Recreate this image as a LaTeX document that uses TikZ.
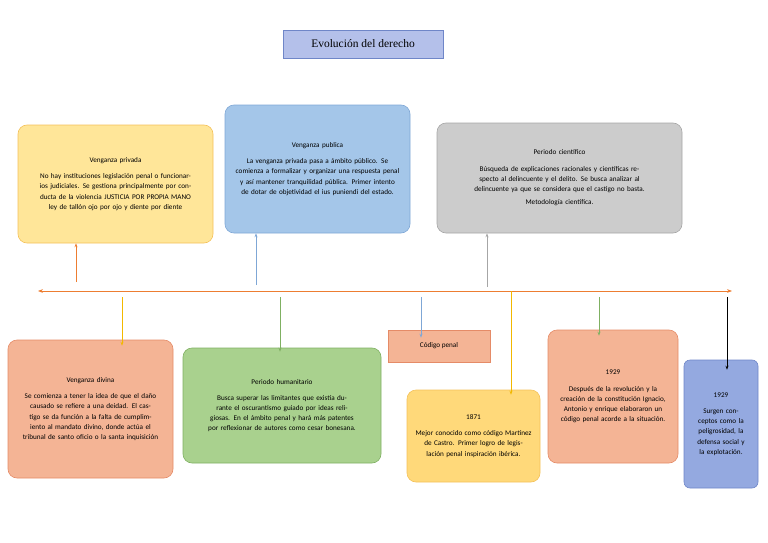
\documentclass[tikz,border=0pt]{standalone}
\usepackage{fontspec}
\setmainfont{Carlito}
\newfontfamily\titlefont{Liberation Serif}
\usetikzlibrary{arrows.meta}
\definecolor{cYel}{HTML}{FFE699}
\definecolor{cYelB}{HTML}{F4C15A}
\definecolor{cBlu}{HTML}{A4C6E9}
\definecolor{cBluB}{HTML}{7FA7D6}
\definecolor{cGra}{HTML}{CCCCCC}
\definecolor{cGraB}{HTML}{A6A6A6}
\definecolor{cSal}{HTML}{F4B495}
\definecolor{cSalB}{HTML}{E58B67}
\definecolor{cGre}{HTML}{A9D18E}
\definecolor{cGreB}{HTML}{7FB062}
\definecolor{cY2}{HTML}{FFD97A}
\definecolor{cVio}{HTML}{94A9E0}
\definecolor{cVioB}{HTML}{6F86C8}
\definecolor{cOr}{HTML}{ED7D31}
\definecolor{cGold}{HTML}{F2B800}
\definecolor{cTit}{HTML}{B4C0EA}
\tikzset{
 box/.style={rounded corners=9pt,draw=#1,line width=0.6pt,align=center,inner sep=4pt,font=\fontsize{7.2}{10.2}\selectfont},
 ar/.style={-{Stealth[length=4pt,width=3pt]},line width=0.8pt,draw=#1},
}
\begin{document}
\begin{tikzpicture}[x=1pt,y=-1pt]
\useasboundingbox (0,0) rectangle (768,543);
\node[draw=cVioB,fill=cTit,minimum width=160,minimum height=28,font=\titlefont\fontsize{11.5}{13}\selectfont] (t) at (363,44) {Evolución del derecho};
\coordinate (L) at (38,291); \coordinate (R) at (732,291);
\draw[{Stealth[length=5pt]}-{Stealth[length=5pt]},cOr,line width=0.9pt] (L) -- (R);

\node[box=cYelB,fill=cYel,minimum width=195,minimum height=118,text width=185] (vp) at (115.5,184) {Venganza privada\\[6pt]No hay instituciones legislación penal o funcionarios judiciales. Se gestiona principalmente por conducta de la violencia JUSTICIA POR PROPIA MANO ley de tallón ojo por ojo y diente por diente\\[4pt]};
\node[box=cBluB,fill=cBlu,minimum width=185,minimum height=128,text width=170] (vpu) at (317.5,169) {Venganza publica\\[6pt]La venganza privada pasa a ámbito público. Se comienza a formalizar y organizar una respuesta penal y así mantener tranquilidad pública. Primer intento de dotar de objetividad el ius puniendi del estado.\\[14pt]};
\node[box=cGraB,fill=cGra,minimum width=245,minimum height=110,text width=230] (pc) at (559.5,178) {Periodo científico\\[6pt]Búsqueda de explicaciones racionales y científicas respecto al delincuente y el delito. Se busca analizar al delincuente ya que se considera que el castigo no basta.\\[3pt]Metodología científica.};
\node[box=cSalB,fill=cSal,minimum width=165,minimum height=138,text width=150] (vd) at (90.5,409) {Venganza divina\\[6pt]Se comienza a tener la idea de que el daño causado se refiere a una deidad. El castigo se da función a la falta de cumplimiento al mandato divino, donde actúa el tribunal de santo oficio o la santa inquisición};
\node[box=cGreB,fill=cGre,minimum width=198,minimum height=115,text width=185] (ph) at (282,405.5) {Periodo humanitario\\[6pt]Busca superar las limitantes que existía durante el oscurantismo guiado por ideas religiosas. En el ámbito penal y hará más patentes por reflexionar de autores como cesar bonesana.\\[8pt]};
\node[box=cSalB,fill=cSal,rounded corners=0pt,minimum width=102,minimum height=32] (cp) at (439,346) {Código penal};
\node[box=cYelB,fill=cY2,minimum width=133,minimum height=92,text width=125] (a1871) at (473.5,436) {1871\\[6pt]Mejor conocido como código Martínez de Castro. Primer logro de legislación penal inspiración ibérica.};
\node[box=cSalB,fill=cSal,minimum width=130,minimum height=133,text width=112] (a1929) at (613,396.5) {1929\\[6pt]Después de la revolución y la creación de la constitución Ignacio, Antonio y enrique elaboraron un código penal acorde a la situación.\\[12pt]};
\node[box=cVioB,fill=cVio,rounded corners=6pt,minimum width=74,minimum height=128,text width=62] (b1929) at (721,424) {1929\\[6pt]Surgen conceptos como la peligrosidad, la defensa social y la explotación.};

\coordinate (p1) at (76,282); \draw[ar=cOr] (p1) -- (vp.south -| p1);
\coordinate (p2) at (256,285); \draw[ar=cBluB] (p2) -- (vpu.south -| p2);
\coordinate (p3) at (487,287); \draw[ar=cGraB] (p3) -- (pc.south -| p3);
\coordinate (d1) at (122,297); \draw[ar=cGold] (d1) -- ([yshift=-6]vd.north -| d1);
\coordinate (d2) at (280,297); \draw[ar=cGreB] (d2) -- ([yshift=-4]ph.north -| d2);
\coordinate (d3) at (421,297); \draw[ar=cBluB] (d3) -- ([yshift=-8]cp.north -| d3);
\coordinate (d4) at (511,291); \draw[ar=cGold] (d4) -- ([yshift=-5]a1871.north -| d4);
\coordinate (d5) at (599,297); \draw[ar=cGreB] (d5) -- ([yshift=-6]a1929.north -| d5);
\coordinate (d6) at (727,297); \draw[ar=black] (d6) -- ([yshift=-10]b1929.north -| d6);
\end{tikzpicture}
\end{document}
